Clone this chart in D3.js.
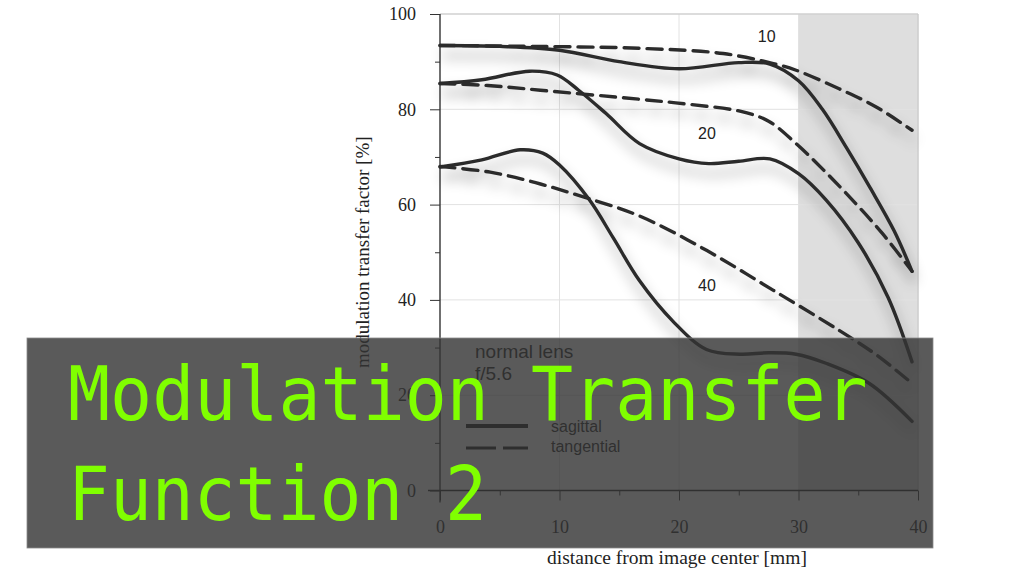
<!DOCTYPE html>
<html><head><meta charset="utf-8">
<script src="https://cdn.jsdelivr.net/npm/d3@7"></script>
<style>
html,body{margin:0;padding:0;background:#fff;}
svg{display:block;}
</style></head>
<body>
<svg id="chart" width="1024" height="576"></svg>
<script>
// ---- data ----
const xTicks = [0, 10, 20, 30, 40];
const yTicks = [0, 20, 40, 60, 80, 100];
const sagittal10 = [[0,93.4],[5,93.2],[10,92.4],[15,90],[20,88.5],[25,89.8],[27.6,89.5],[30,86],[32,80],[34,72],[36,63.5],[38,54.5],[39.5,46]];
const tangential10 = [[0,93.4],[8,93.2],[16.7,92.8],[23.7,91.7],[27.9,89.6],[29.8,88.2],[33.4,84.3],[36.5,80.5],[39.5,75.6]];
const sagittal20 = [[0,85.4],[3.5,86.2],[7.5,88],[9.8,87.2],[11.6,84],[13.9,79.1],[16.7,72.8],[20,69.6],[22.5,68.6],[25,69.1],[27.6,69.6],[30,66.5],[32.3,61],[35,52],[37.5,40.5],[39.5,27]];
const tangential20 = [[0,85.4],[4,85],[8.4,84],[16.7,82.1],[21,81],[25.1,79.6],[27.5,77.5],[29.8,72.8],[32,67.5],[34.5,61],[37,54],[39.5,46]];
const sagittal40 = [[0,67.9],[3.5,69.4],[6.7,71.5],[8.6,70.8],[10,68.3],[12.5,61],[14.5,53],[16.7,44],[19.5,35.5],[22.3,29.6],[25.1,28.6],[27.5,28.9],[29.8,28.6],[32.3,26.7],[35.9,22.5],[39.5,14.5]];
const tangential40 = [[0,68],[4.2,66.8],[8,64.6],[12,61.6],[16.7,57.6],[22.3,50.4],[27.9,42],[33.4,33.6],[36.5,28.5],[39.5,22.5]];
const curveLabels = [["10",[26.6,94.2]],["20",[21.6,73.7]],["40",[21.6,41.8]]];
const shadedRange = [30, 40];
const legendTitle = ["normal lens", "f/5.6"];
const legendItems = ["sagittal", "tangential"];
const titleLines = ["Modulation Transfer", "Function 2"];

// ---- layout ----
const svg = d3.select("#chart");
const x = d3.scaleLinear().domain([0, 40]).range([440, 918]);
const y = d3.scaleLinear().domain([0, 100]).range([490.5, 14]);

const defs = svg.append("defs");
const f = defs.append("filter").attr("id","shadow").attr("x","-20%").attr("y","-20%").attr("width","140%").attr("height","160%");
f.append("feGaussianBlur").attr("in","SourceAlpha").attr("stdDeviation",7).attr("result","b");
f.append("feOffset").attr("in","b").attr("dx",2).attr("dy",10).attr("result","o");
f.append("feComponentTransfer").attr("in","o").append("feFuncA").attr("type","linear").attr("slope",0.35);

// shaded region
svg.append("rect").attr("x", x(shadedRange[0])).attr("y", y(100))
  .attr("width", x(shadedRange[1]) - x(shadedRange[0])).attr("height", y(0) - y(100))
  .attr("fill", "#dedede");

// grid
const grid = svg.append("g").attr("stroke", "#e2e2e2").attr("stroke-width", 1);
xTicks.slice(1).forEach(t => grid.append("line").attr("x1", x(t)).attr("x2", x(t)).attr("y1", y(0)).attr("y2", y(100)));
yTicks.slice(1).forEach(t => grid.append("line").attr("x1", x(0)).attr("x2", x(40)).attr("y1", y(t)).attr("y2", y(t)));
svg.append("line").attr("x1", x(0)).attr("x2", x(40)).attr("y1", y(100)).attr("y2", y(100)).attr("stroke","#c8c8c8").attr("stroke-width",1.2);
svg.append("line").attr("x1", x(40)).attr("x2", x(40)).attr("y1", y(0)).attr("y2", y(100)).attr("stroke","#c8c8c8").attr("stroke-width",1.2);

// axes
const serif = "'Liberation Serif', 'DejaVu Serif', serif";
const xAxis = d3.axisBottom(x).tickValues(d3.range(0, 41, 5)).tickSize(8).tickFormat(d => d % 10 === 0 ? d : "");
const gx = svg.append("g").attr("transform", `translate(0,${y(0)})`).call(xAxis);
gx.select(".domain").attr("stroke", "#222").attr("stroke-width", 1.3).attr("d", `M${x(0)-12},0H${x(40)}`);
gx.selectAll(".tick line").attr("stroke", "#333").attr("y2", d => d % 10 === 0 ? 10 : 5);
gx.selectAll(".tick text").attr("font-family", serif).attr("font-size", 18).attr("fill", "#222").attr("y", 30).attr("dy", "0.71em")
  .style("font-variant-numeric","oldstyle-nums");

const yAxis = d3.axisLeft(y).tickValues(d3.range(0, 101, 10)).tickSize(10).tickFormat(d => d % 20 === 0 ? d : "");
const gy = svg.append("g").attr("transform", `translate(${x(0)},0)`).call(yAxis);
gy.select(".domain").attr("stroke", "#222").attr("stroke-width", 1.3).attr("d", `M0,${y(0)+12}V${y(100)}`);
gy.selectAll(".tick line").attr("stroke", "#333").attr("x2", d => d % 20 === 0 ? -10 : -5);
gy.selectAll(".tick text").attr("font-family", serif).attr("font-size", 18).attr("fill", "#222").attr("x", -24)
  .style("font-variant-numeric","oldstyle-nums");

svg.append("text").attr("transform", `translate(369,${(y(0)+y(100))/2}) rotate(-90)`)
  .attr("text-anchor","middle").attr("font-family", serif).attr("font-size", 19).attr("fill","#222")
  .text("modulation transfer factor [%]");
svg.append("text").attr("x", (x(0)+x(40))/2 - 2).attr("y", 564)
  .attr("text-anchor","middle").attr("font-family", serif).attr("font-size", 19.5).attr("fill","#222")
  .text("distance from image center [mm]");

// curves
const line = d3.line().x(d => x(d[0])).y(d => y(d[1])).curve(d3.curveCatmullRom.alpha(0.5));
const series = [
  {d: sagittal10, dash: null}, {d: tangential10, dash: "15,8"},
  {d: sagittal20, dash: null}, {d: tangential20, dash: "15,8"},
  {d: sagittal40, dash: null}, {d: tangential40, dash: "15,8"}
];
const sh = svg.append("g").attr("filter","url(#shadow)");
series.forEach(s => sh.append("path").attr("d", line(s.d)).attr("fill","none").attr("stroke","#000").attr("stroke-width",4)
  .attr("stroke-dasharray", s.dash));
const lg = svg.append("g");
series.forEach(s => lg.append("path").attr("d", line(s.d)).attr("fill","none").attr("stroke","#2b2b2b")
  .attr("stroke-width", 3.4).attr("stroke-linecap","round").attr("stroke-dasharray", s.dash));

const sans = "'Liberation Sans', Arial, sans-serif";
curveLabels.forEach(c => svg.append("text").attr("x", x(c[1][0])).attr("y", y(c[1][1]))
  .attr("font-family", sans).attr("font-size", 16).attr("fill","#222").text(c[0]));

// legend
legendTitle.forEach((t, i) => svg.append("text").attr("x", 475).attr("y", 358 + i * 22)
  .attr("font-family", sans).attr("font-size", 19).attr("fill","#222").text(t));
legendItems.forEach((t, i) => {
  svg.append("line").attr("x1", 466).attr("x2", 528).attr("y1", 426 + i * 22).attr("y2", 426 + i * 22)
    .attr("stroke","#1a1a1a").attr("stroke-width", i ? 3 : 4).attr("stroke-dasharray", i ? "30,7" : null);
  svg.append("text").attr("x", 551).attr("y", 432 + i * 20).attr("font-family", sans).attr("font-size", 16)
    .attr("fill","#222").text(t);
});

// title overlay
svg.append("rect").attr("x", 27).attr("y", 338).attr("width", 906).attr("height", 210)
  .attr("fill", "rgb(52,52,52)").attr("fill-opacity", 0.81).attr("stroke","#8a8a8a").attr("stroke-width",0.8);
titleLines.forEach((t, i) => svg.append("text").attr("x", 68).attr("y", 420 + i * 100)
  .attr("font-family", "'DejaVu Sans Mono', monospace").attr("font-size", 74).attr("fill", "#80ff00")
  .attr("textLength", t.length * 42.3 - 4).attr("lengthAdjust", "spacingAndGlyphs").text(t));
</script>
</body></html>
